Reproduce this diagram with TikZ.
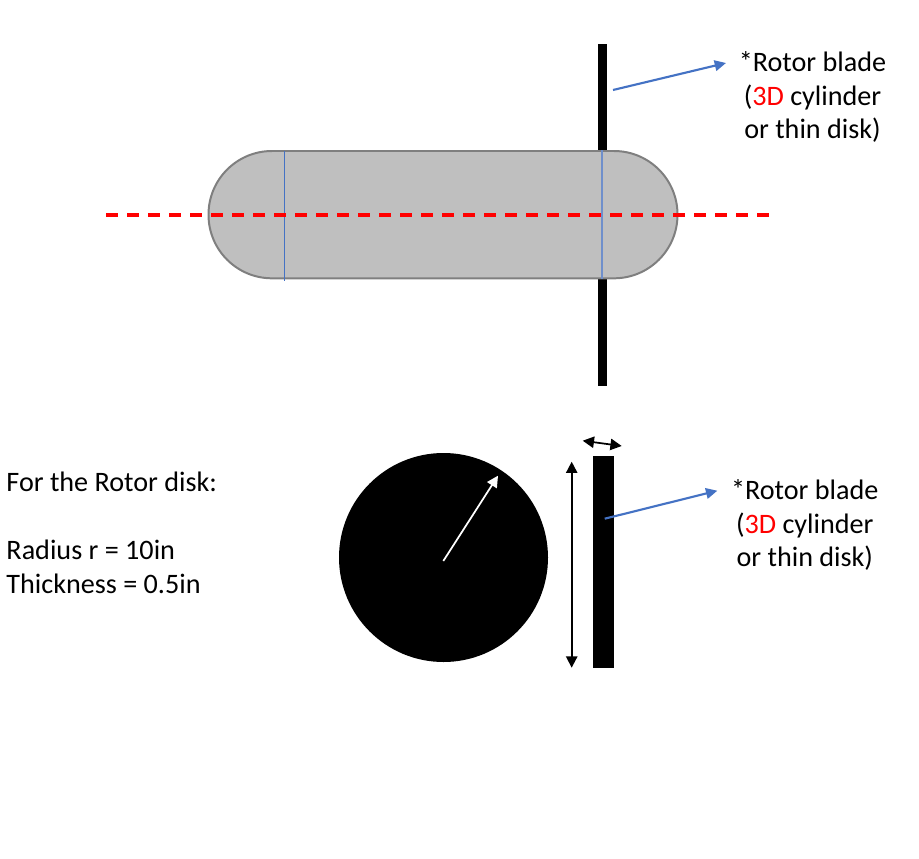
\documentclass[tikz,border=0pt]{standalone}
\usepackage{fontspec}
\setmainfont{Carlito}
\usetikzlibrary{arrows.meta}
\definecolor{pblue}{HTML}{4472C4}
\definecolor{lblue}{HTML}{6F8FCB}
\definecolor{cgray}{HTML}{BFBFBF}
\definecolor{cedge}{HTML}{7F7F7F}
\newcommand{\px}{0.0264583cm}
\tikzset{x=\px,y=-\px,
 lbl/.style={font=\fontsize{21.2pt}{25.5pt}\selectfont,inner sep=0pt,align=center,text=black},
 ltxt/.style={font=\fontsize{21.2pt}{25.5pt}\selectfont,inner sep=0pt,anchor=west,text=black},
 ptr/.style={pblue,line width=1.6pt,-{Triangle[length=8.5pt,width=8pt]}},
 dbl/.style={black,line width=1.3pt,{Triangle[length=8.5pt,width=8.5pt]}-{Triangle[length=8.5pt,width=8.5pt]}}}
\begin{document}
\begin{tikzpicture}
\useasboundingbox (0,0) rectangle (919,858);
\fill[black] (597.5,44) rectangle (606.7,385.5);
\draw[cedge,fill=cgray,line width=1.5pt,rounded corners=63.5*\px] (208.5,151) rectangle (677.5,278.3);
\draw[pblue,line width=0.7pt] (284.5,151) -- (284.5,280.5);
\draw[lblue,line width=0.9pt] (602,150) -- (602,279);
\draw[red,line width=2.5pt,dash pattern=on 9.03pt off 6.78pt] (106,215) -- (770,215);
\coordinate (a1) at (613,90);
\coordinate (a2) at (726,63);
\draw[ptr] (a1) -- (a2);
\node[lbl] (t1) at (812.5,97) {*Rotor blade\\(\textcolor{red}{3D} cylinder\\or thin disk)};
\node[draw=none,fill=black,circle,minimum size=209*\px,inner sep=0pt] (disk) at (443.5,557.5) {};
\node[draw=none,fill=black,minimum width=21.3*\px,minimum height=212.3*\px,inner sep=0pt] (bar) at (603.4,562.2) {};
\coordinate (r0) at (443.3,561);
\coordinate (r1) at (498,475.7);
\draw[white,line width=1.3pt,-{Triangle[length=8.5pt,width=8.5pt]}] (r0) -- (r1);
\coordinate (h0) at (571.7,461.7);
\coordinate (h1) at (571.7,667.7);
\draw[dbl] (h0) -- (h1);
\coordinate (w0) at (582.7,440.7);
\coordinate (w1) at (621.7,446);
\draw[dbl] (w0) -- (w1);
\coordinate (b1) at (604.7,518.7);
\coordinate (b2) at (717.3,490.7);
\draw[ptr] (b1) -- (b2);
\node[lbl] (t2) at (804.8,525) {*Rotor blade\\(\textcolor{red}{3D} cylinder\\or thin disk)};
\node[ltxt] (f1) at (6.2,482) {For the Rotor disk:};
\node[ltxt] (f2) at (6.2,549.5) {Radius r = 10in};
\node[ltxt] (f3) at (6.2,583.5) {Thickness = 0.5in};
\end{tikzpicture}
\end{document}
